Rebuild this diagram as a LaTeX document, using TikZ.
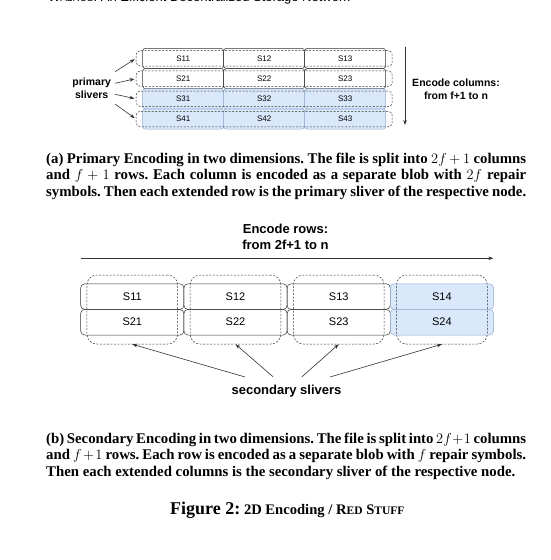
\documentclass[tikz,border=0pt]{standalone}
\usepackage{fontspec}
\setmainfont{Liberation Serif}
\setsansfont{Liberation Sans}
\usetikzlibrary{arrows.meta}
\definecolor{slvblue}{HTML}{DAE8FC}
\definecolor{slvedge}{HTML}{8FA9CC}
\definecolor{lngray}{HTML}{333333}
\frenchspacing
\newcommand{\smcap}[1]{{\fontsize{11.5}{12}\selectfont #1}}
\newcommand{\hdsc}[1]{{\fontsize{10}{11}\selectfont #1}}
\newcommand{\capline}[1]{\makebox[480pt][s]{#1}}

\begin{document}
\begin{tikzpicture}[x=1pt,y=-1pt,>={Stealth[length=5pt,width=3.6pt]},
  cell/.style={draw=lngray,line width=0.5pt,rounded corners=2.5pt,inner sep=0pt,
    minimum width=81pt,minimum height=20pt,font=\sffamily\fontsize{8}{9}\selectfont},
  bluecell/.style={cell,draw=slvedge,fill=slvblue},
  bigcell/.style={minimum width=103.2pt,minimum height=25.6pt,rounded corners=4pt,
    font=\sffamily\fontsize{11}{12}\selectfont},
  sliver/.style={draw=lngray,line width=0.5pt,dash pattern=on 2pt off 1.5pt,rounded corners=4pt,inner sep=0pt},
  lbl/.style={font=\sffamily\bfseries\fontsize{10.5}{13}\selectfont,align=center,inner sep=0pt},
  biglbl/.style={font=\sffamily\bfseries\fontsize{13}{16.7}\selectfont,align=center,inner sep=0pt},
  conn/.style={->,draw=lngray,line width=0.6pt},
  capt/.style={font=\bfseries\fontsize{14.8}{16}\selectfont,anchor=base west,inner sep=0pt}]
\useasboundingbox (0,0) rectangle (550,560);

\node[anchor=base,inner sep=0pt,font=\sffamily\fontsize{13}{14}\selectfont] (head) at (199,1.5)
  {W\hdsc{ALRUS}: An Efficient Decentralized Storage Network};

% primary encoding
\foreach \r in {1,2} \foreach \c in {1,2,3}
  \node[cell] (a\r\c) at ({102.2+81*\c},{38.2+20.2*\r}) {S\r\c};
\foreach \r in {3,4} \foreach \c in {1,2,3}
  \node[bluecell] (a\r\c) at ({102.2+81*\c},{38.2+20.2*\r}) {S\r\c};
\foreach \r in {1,...,4}
  \node[sliver,minimum width=256pt,minimum height=15.5pt] (row\r) at (264.2,{38.2+20.2*\r}) {};

\node[lbl] (prim) at (91.7,88.7) {primary\\slivers};
\foreach \r/\y in {1/71.7,2/83.3,3/94.3,4/104}{
  \coordinate (ps\r) at (115,\y);
  \draw[conn,shorten >=1.5pt] (ps\r) -- (row\r.west);
}
\coordinate (ctop) at (405,46.7);
\coordinate (cbot) at (405,125);
\draw[conn] (ctop) -- (cbot);
\node[lbl] (enccol) at (456,89) {Encode columns:\\from f+1 to n};

\node[capt] (capa1) at (46,163.5) {\capline{(a) Primary Encoding in two dimensions. The file is split into $2f+1$ columns}};
\node[capt] (capa2) at (46,179.8) {\capline{and $f+1$ rows. Each column is encoded as a separate blob with $2f$ repair}};
\node[capt] (capa3) at (46,196.1) {\capline{symbols. Then each extended row is the primary sliver of the respective node.}};

% secondary encoding
\node[biglbl] (encrow) at (285.5,236.7) {Encode rows:\\from 2f+1 to n};
\coordinate (rleft) at (80.7,258.3);
\coordinate (rright) at (493.3,258.3);
\draw[conn] (rleft) -- (rright);

\foreach \r in {1,2}{
  \foreach \c in {1,2,3}
    \node[cell,bigcell] (b\r\c) at ({29.1+103.2*\c},{271+25.6*\r}) {S\r\c};
  \node[bluecell,bigcell] (b\r4) at ({29.1+103.2*4},{271+25.6*\r}) {S\r4};
}
\foreach \c in {1,...,4}
  \node[sliver,rounded corners=10pt,minimum width=90.8pt,minimum height=69pt] (col\c) at ({29.1+103.2*\c},309.5) {};

\node[biglbl] (sec) at (286.5,391) {secondary slivers};
\foreach \c/\x in {1/245,2/273.3,3/301.7,4/330}{
  \coordinate (ss\c) at (\x,377);
  \draw[conn] (ss\c) -- (col\c.south);
}

\node[capt] (capb1) at (46,443.5) {\capline{(b) Secondary Encoding in two dimensions. The file is split into $2f+1$ columns}};
\node[capt] (capb2) at (46,459.8) {\capline{and $f+1$ rows. Each row is encoded as a separate blob with $f$ repair symbols.}};
\node[capt] (capb3) at (46,476.1) {Then each extended columns is the secondary sliver of the respective node.};

\node[anchor=base west,inner sep=0pt,font=\bfseries\fontsize{14.6}{16}\selectfont] (fig) at (170,514.5)
  {{\fontsize{18}{20}\selectfont Figure 2:} 2D Encoding / R\smcap{ED} S\smcap{TUFF}};
\end{tikzpicture}
\end{document}
